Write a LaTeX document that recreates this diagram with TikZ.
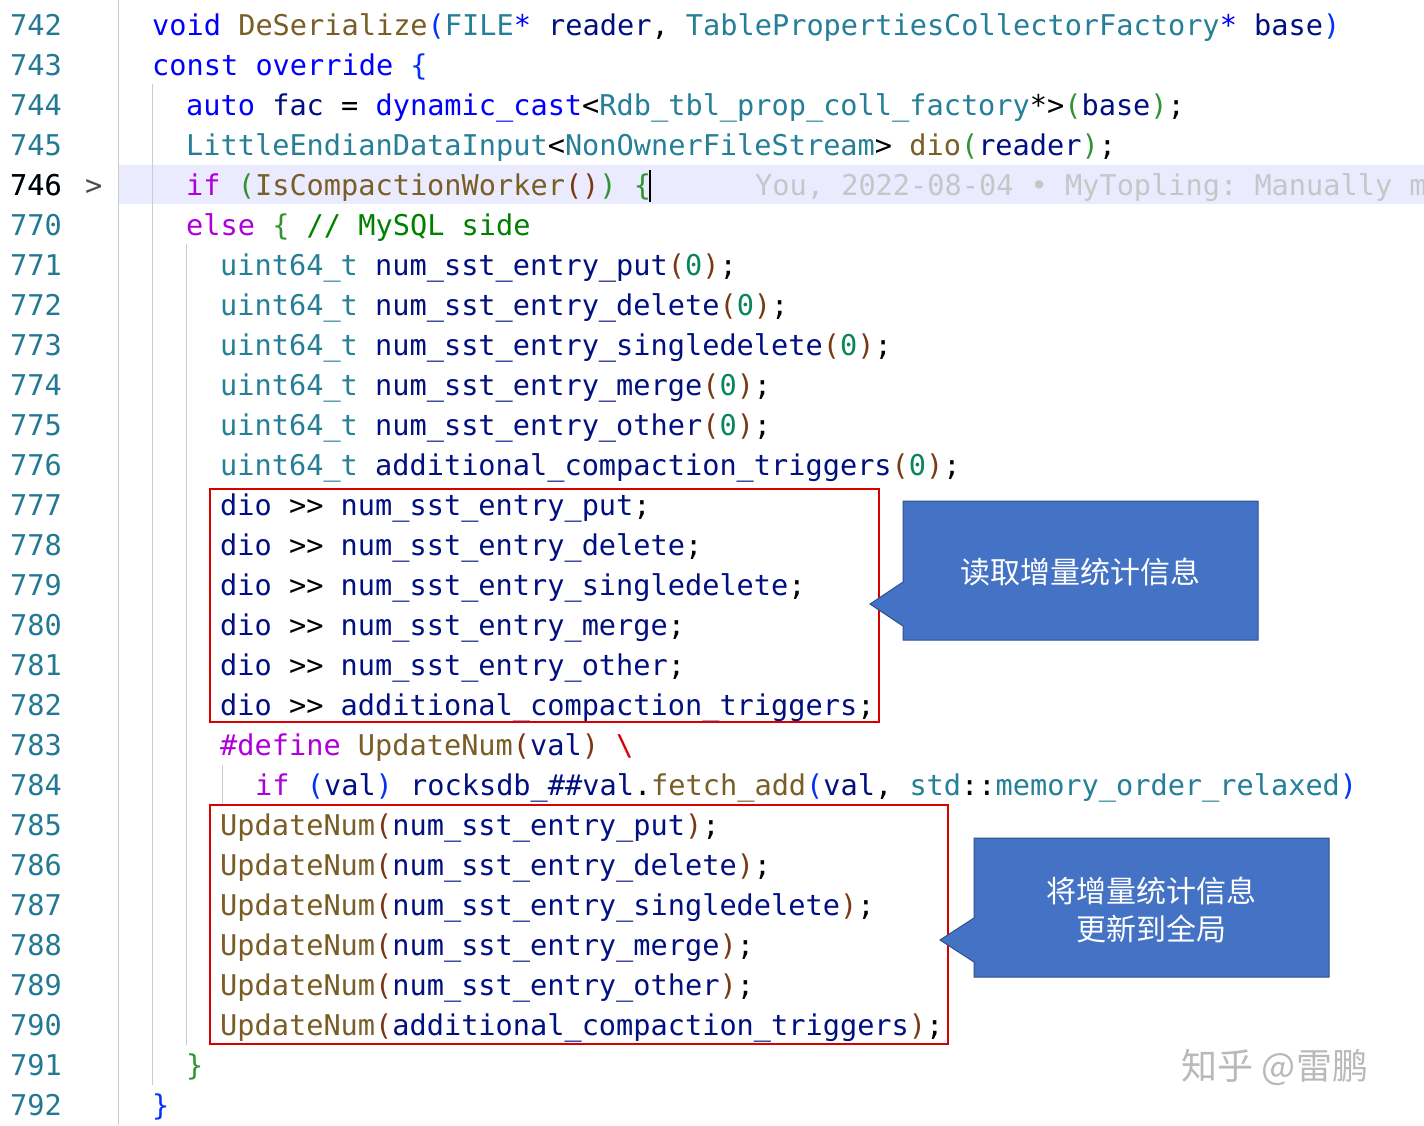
\documentclass[tikz,border=0pt]{standalone}
\usepackage{fontspec}
\setmonofont{DejaVu Sans Mono}
\newfontfamily\cjk{Noto Sans CJK SC}
\definecolor{kw}{HTML}{0000FF}
\definecolor{fn}{HTML}{795E26}
\definecolor{ty}{HTML}{267F99}
\definecolor{vr}{HTML}{001080}
\definecolor{ctl}{HTML}{AF00DB}
\definecolor{cm}{HTML}{008000}
\definecolor{nm}{HTML}{098658}
\definecolor{ba}{HTML}{0431FA}
\definecolor{bb}{HTML}{319331}
\definecolor{bc}{HTML}{7B3814}
\definecolor{ln}{HTML}{237893}
\definecolor{callout}{HTML}{4472C4}
\definecolor{calloutb}{HTML}{2F528F}
\newcommand\C[2]{\textcolor{#1}{#2}}
\begin{document}
\begin{tikzpicture}[x=1pt,y=-1pt,
  code/.style={anchor=base west,inner sep=0pt,font=\ttfamily\fontsize{28.6}{29}\selectfont},
  lnum/.style={code,text=ln},
  redbox/.style={draw=red!85!black,line width=1.5pt},
  bubble/.style={fill=callout,draw=calloutb,line width=1pt},
  ctext/.style={text=white,font=\cjk\fontsize{30}{38}\selectfont,align=center}]
\useasboundingbox (0,0) rectangle (1424,1125);
\fill[white] (0,0) rectangle (1424,1125);
\fill[blue!8] (118,165) rectangle (1424,204);
\draw[gray!40,line width=1pt] (118,0) -- (118,1125);
\draw[gray!40,line width=1pt] (152,84) -- (152,1085);
\draw[gray!40,line width=1pt] (186,244) -- (186,1045);
\draw[gray!40,line width=1pt] (222,765) -- (222,805);
% line numbers
\foreach \n [count=\i from 0] in {742,743,744,745,746,770,771,772,773,774,775,776,777,778,779,780,781,782,783,784,785,786,787,788,789,790,791,792}
  \node[lnum] (l\n) at (10,{35+40*\i}) {\n};
\node[code,text=black] (l746b) at (10,195) {746};
\node[code,text=black!70] (chev) at (85,195) {>};
\def\L#1#2#3{\node[code] (c#1) at (#2,{35+40*#1}) {#3};}
\L{0}{152}{\C{kw}{void} \C{fn}{DeSerialize}\C{ba}{(}\C{ty}{FILE}\C{kw}{*} \C{vr}{reader}, \C{ty}{TablePropertiesCollectorFactory}\C{kw}{*} \C{vr}{base}\C{ba}{)}}
\L{1}{152}{\C{kw}{const override} \C{ba}{\{}}
\L{2}{186}{\C{kw}{auto} \C{vr}{fac} = \C{kw}{dynamic\_cast}<\C{ty}{Rdb\_tbl\_prop\_coll\_factory}*>\C{bb}{(}\C{vr}{base}\C{bb}{)};}
\L{3}{186}{\C{ty}{LittleEndianDataInput}<\C{ty}{NonOwnerFileStream}> \C{fn}{dio}\C{bb}{(}\C{vr}{reader}\C{bb}{)};}
\L{4}{186}{\C{ctl}{if} \C{bb}{(}\C{fn}{IsCompactionWorker}\C{bc}{()}\C{bb}{)} \C{bb}{\{}}
\node[code,text=gray!45] (ghost) at (755,195) {You, 2022-08-04 • MyTopling: Manually m};
\draw[line width=2.5pt] (650,170) -- (650,202);
\L{5}{186}{\C{ctl}{else} \C{bb}{\{} \C{cm}{// MySQL side}}
\L{6}{220}{\C{ty}{uint64\_t} \C{vr}{num\_sst\_entry\_put}\C{bc}{(}\C{nm}{0}\C{bc}{)};}
\L{7}{220}{\C{ty}{uint64\_t} \C{vr}{num\_sst\_entry\_delete}\C{bc}{(}\C{nm}{0}\C{bc}{)};}
\L{8}{220}{\C{ty}{uint64\_t} \C{vr}{num\_sst\_entry\_singledelete}\C{bc}{(}\C{nm}{0}\C{bc}{)};}
\L{9}{220}{\C{ty}{uint64\_t} \C{vr}{num\_sst\_entry\_merge}\C{bc}{(}\C{nm}{0}\C{bc}{)};}
\L{10}{220}{\C{ty}{uint64\_t} \C{vr}{num\_sst\_entry\_other}\C{bc}{(}\C{nm}{0}\C{bc}{)};}
\L{11}{220}{\C{ty}{uint64\_t} \C{vr}{additional\_compaction\_triggers}\C{bc}{(}\C{nm}{0}\C{bc}{)};}
\L{12}{220}{\C{vr}{dio} >> \C{vr}{num\_sst\_entry\_put};}
\L{13}{220}{\C{vr}{dio} >> \C{vr}{num\_sst\_entry\_delete};}
\L{14}{220}{\C{vr}{dio} >> \C{vr}{num\_sst\_entry\_singledelete};}
\L{15}{220}{\C{vr}{dio} >> \C{vr}{num\_sst\_entry\_merge};}
\L{16}{220}{\C{vr}{dio} >> \C{vr}{num\_sst\_entry\_other};}
\L{17}{220}{\C{vr}{dio} >> \C{vr}{additional\_compaction\_triggers};}
\L{18}{220}{\C{ctl}{\#define} \C{fn}{UpdateNum}\C{bc}{(}\C{vr}{val}\C{bc}{)} \C{red!85!black}{\textbackslash}}
\L{19}{255}{\C{ctl}{if} \C{ba}{(}\C{vr}{val}\C{ba}{)} \C{vr}{rocksdb\_\#\#val}.\C{fn}{fetch\_add}\C{ba}{(}\C{vr}{val}, \C{ty}{std}::\C{ty}{memory\_order\_relaxed}\C{ba}{)}}
\L{20}{220}{\C{fn}{UpdateNum}\C{bc}{(}\C{vr}{num\_sst\_entry\_put}\C{bc}{)};}
\L{21}{220}{\C{fn}{UpdateNum}\C{bc}{(}\C{vr}{num\_sst\_entry\_delete}\C{bc}{)};}
\L{22}{220}{\C{fn}{UpdateNum}\C{bc}{(}\C{vr}{num\_sst\_entry\_singledelete}\C{bc}{)};}
\L{23}{220}{\C{fn}{UpdateNum}\C{bc}{(}\C{vr}{num\_sst\_entry\_merge}\C{bc}{)};}
\L{24}{220}{\C{fn}{UpdateNum}\C{bc}{(}\C{vr}{num\_sst\_entry\_other}\C{bc}{)};}
\L{25}{220}{\C{fn}{UpdateNum}\C{bc}{(}\C{vr}{additional\_compaction\_triggers}\C{bc}{)};}
\L{26}{186}{\C{bb}{\}}}
\L{27}{152}{\C{ba}{\}}}
% red boxes
\draw[redbox] (210,489) rectangle (879,722);
\draw[redbox] (210,805) rectangle (948,1044);
% callouts
\draw[bubble] (903,501) -- (1258,501) -- (1258,640) -- (903,640) -- (903,626) -- (870,604) -- (903,582) -- cycle;
\node[ctext] (t1) at (1080,572) {读取增量统计信息};
\draw[bubble] (974,838) -- (1329,838) -- (1329,977) -- (974,977) -- (974,962) -- (940,940) -- (974,918) -- cycle;
\node[ctext] (t2) at (1151,910) {将增量统计信息\\更新到全局};
\node[text=gray!55,font=\cjk\fontsize{36}{36}\selectfont,inner sep=0pt] (wm) at (1275,1067) {知乎 @雷鹏};
\end{tikzpicture}
\end{document}
